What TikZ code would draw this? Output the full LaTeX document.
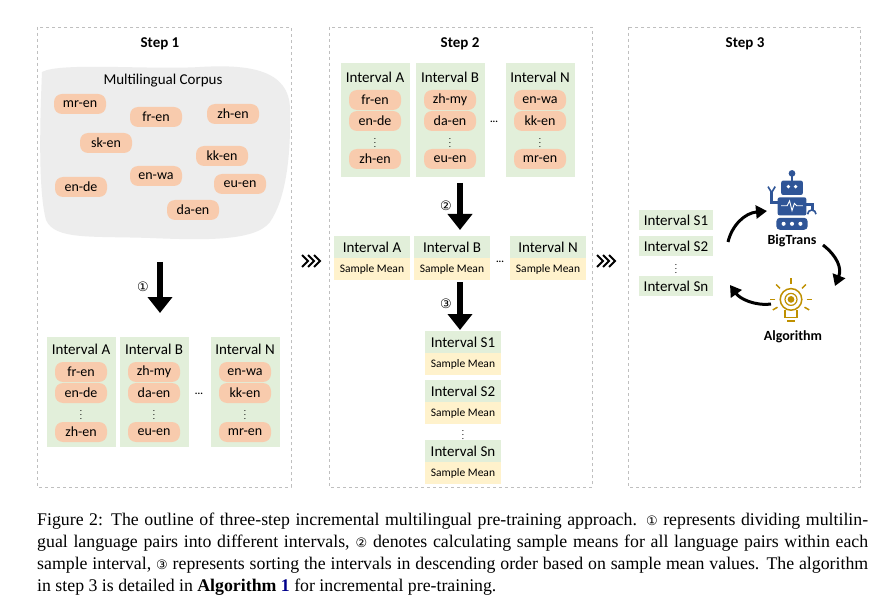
\documentclass[tikz,border=0pt]{standalone}
\usepackage{fontspec}
\setmainfont{Carlito}
\newfontfamily\capfont{Liberation Serif}
\newfontfamily\symfont{DejaVu Sans}
\usetikzlibrary{arrows.meta}
\definecolor{pillc}{HTML}{F8CBAD}
\definecolor{grn}{HTML}{E2EFDA}
\definecolor{ylw}{HTML}{FFF2CC}
\definecolor{blob}{HTML}{EDEDED}
\definecolor{robo}{HTML}{2F5597}
\definecolor{gold}{HTML}{BF9000}
\definecolor{dash}{HTML}{BFBFBF}
\tikzset{
 pill/.style={fill=pillc,rounded corners=8pt,minimum width=52pt,minimum height=20pt,inner sep=0pt,font=\fontsize{14}{14}\selectfont},
 grnbox/.style={fill=grn,inner sep=0pt},
 hdr/.style={font=\fontsize{15}{15}\selectfont},
 smean/.style={font=\fontsize{11.5}{11.5}\selectfont},
 vd/.style={inner sep=0pt,font=\fontsize{9}{9}\selectfont},
 panel/.style={draw=dash,dashed,line width=0.8pt},
 bigarrow/.style={-{Triangle[length=16pt,width=24pt]},line width=6pt},
 curarrow/.style={-{Triangle[length=11pt,width=13pt]},line width=3pt},
 stitle/.style={font=\bfseries\fontsize{15}{15}\selectfont},
 circ/.style={font=\symfont\fontsize{13}{13}\selectfont},
}
\begin{document}
\begin{tikzpicture}[x=1pt,y=-1pt]
\useasboundingbox (0,0) rectangle (891,612);
\fill[white] (0,0) rectangle (891,612);
% panels
\draw[panel] (37,27) rectangle (291,487);
\draw[panel] (329,27) rectangle (592,487);
\draw[panel] (628,27) rectangle (860,487);
\node[stitle] (t1) at (160,44) {Step 1};
\node[stitle] (t2) at (460,44) {Step 2};
\node[stitle] (t3) at (745,44) {Step 3};
% corpus blob
\fill[blob] (42,72) .. controls (60,62) and (150,70) .. (200,67)
 .. controls (250,64) and (290,70) .. (290,110)
 .. controls (291,160) and (285,200) .. (270,222)
 .. controls (255,242) and (200,240) .. (150,238)
 .. controls (90,236) and (55,240) .. (46,220)
 .. controls (38,190) and (40,120) .. (42,72) -- cycle;
\node[font=\fontsize{15}{15}\selectfont] (mc) at (163,81) {Multilingual Corpus};
\node[pill] (c1) at (80,104) {mr-en};
\node[pill] (c2) at (156,117) {fr-en};
\node[pill] (c3) at (233,114) {zh-en};
\node[pill] (c4) at (106,143) {sk-en};
\node[pill] (c5) at (222,156) {kk-en};
\node[pill] (c6) at (156,176) {en-wa};
\node[pill] (c7) at (240,184) {eu-en};
\node[pill] (c8) at (81,187) {en-de};
\node[pill] (c9) at (193,210) {da-en};
% arrow 1
\coordinate (a1s) at (160,262); \coordinate (a1e) at (160,313);
\draw[bigarrow] (a1s) -- (a1e);
\node[circ] (n1) at (143,287) {①};
% step1 intervals
\foreach \nm/\cx/\hd/\pa/\pb/\pc in {sA/81/Interval A/fr-en/en-de/zh-en, sB/154/Interval B/zh-my/da-en/eu-en, sN/245/Interval N/en-wa/kk-en/mr-en}{
 \node[grnbox,minimum width=69pt,minimum height=110pt] (\nm) at (\cx,392) {};
 \node[hdr] (\nm h) at (\cx,349) {\hd};
 \node[pill] (\nm 1) at (\cx,372) {\pa};
 \node[pill] (\nm 2) at (\cx,393) {\pb};
 \node[vd] (\nm d) at (\cx,412) {$\vdots$};
 \node[pill] (\nm 3) at (\cx,432) {\pc};
}
\node (dd1) at (199,394) {\textbf{...}};
% step2 top intervals
\foreach \nm/\cx/\hd/\pa/\pb/\pc in {tA/375/Interval A/fr-en/en-de/zh-en, tB/450/Interval B/zh-my/da-en/eu-en, tN/540/Interval N/en-wa/kk-en/mr-en}{
 \node[grnbox,minimum width=69pt,minimum height=114pt] (\nm) at (\cx,120) {};
 \node[hdr] (\nm h) at (\cx,77) {\hd};
 \node[pill] (\nm 1) at (\cx,100) {\pa};
 \node[pill] (\nm 2) at (\cx,121) {\pb};
 \node[vd] (\nm d) at (\cx,140) {$\vdots$};
 \node[pill] (\nm 3) at (\cx,159) {\pc};
}
\node (dd2) at (494,122) {\textbf{...}};
% arrow 2
\coordinate (a2s) at (460,183); \coordinate (a2e) at (460,230);
\draw[bigarrow] (a2s) -- (a2e);
\node[circ] (n2) at (446,206) {②};
% mean row
\foreach \nm/\cx/\hd in {mA/372/Interval A, mB/452/Interval B, mN/548/Interval N}{
 \node[grnbox,minimum width=76pt,minimum height=22pt] (\nm h) at (\cx,247) {};
 \node[hdr] at (\cx,247) {\hd};
 \node[fill=ylw,minimum width=76pt,minimum height=22pt,inner sep=0pt] (\nm m) at (\cx,269) {};
 \node[smean] at (\cx,269) {Sample Mean};
}
\node (dd3) at (500,262) {\textbf{...}};
% arrow 3
\coordinate (a3s) at (460,282); \coordinate (a3e) at (460,330);
\draw[bigarrow] (a3s) -- (a3e);
\node[circ] (n3) at (446,304) {③};
% sorted
\foreach \nm/\cy/\hd in {s1/342/Interval S1, s2/391/Interval S2, s3/451/Interval Sn}{
 \node[grnbox,minimum width=76pt,minimum height=22pt] (\nm h) at (463,\cy) {};
 \node[hdr] at (463,\cy) {\hd};
 \node[fill=ylw,minimum width=76pt,minimum height=22pt,inner sep=0pt] (\nm m) at (463,\cy+22) {};
 \node[smean] at (463,\cy+22) {Sample Mean};
}
\node[vd] (dd4) at (463,432) {$\vdots$};
% chevrons
\foreach \cx in {311,606}{
 \foreach \dx in {-6,0,6}{
  \draw[line width=2pt] (\cx+\dx-3,255) -- (\cx+\dx+3,261) -- (\cx+\dx-3,267);
 }
}
% step 3 list
\node[grnbox,minimum width=74pt,minimum height=20pt,hdr] (q1) at (676,220) {Interval S1};
\node[grnbox,minimum width=74pt,minimum height=20pt,hdr] (q2) at (676,246) {Interval S2};
\node[vd] (qd) at (676,266) {$\vdots$};
\node[grnbox,minimum width=74pt,minimum height=20pt,hdr] (q3) at (676,286) {Interval Sn};
% robot
\begin{scope}[robo,shift={(792,201)},scale=1.2,shift={(-792,-201)}]
 \fill (792,178) circle (2.8pt);
 \fill (791,179) rectangle (793,184);
 \fill[rounded corners=2pt] (783,184) rectangle (801,196);
 \fill[white] (789,189) circle (1.6pt) (795,189) circle (1.6pt);
 \fill[rounded corners=2pt] (780,198) rectangle (804,213);
 \draw[white,line width=0.9pt] (783,205) -- (788,205) -- (790,201) -- (792,209) -- (794,203) -- (796,205) -- (801,205);
 \draw[line width=2.8pt] (780,202) -- (775,202) -- (775,193);
 \draw[line width=1.6pt] (772,189) -- (775,194) -- (778,189);
 \draw[line width=2.8pt] (804,204) -- (809,204) -- (809,209);
 \draw[line width=1.6pt] (805,212) arc (180:0:3.5pt);
 \fill[rounded corners=3.5pt] (779,215) rectangle (805,225);
 \fill[white] (785,220) circle (1.7pt) (792,220) circle (1.7pt) (799,220) circle (1.7pt);
\end{scope}
\node[font=\bfseries\fontsize{14}{14}\selectfont] (bt) at (792,241) {BigTrans};
% bulb
\begin{scope}[gold,line width=1.5pt,shift={(791,303)},scale=1.2,shift={(-791,-303)}]
 \draw (791,300) circle (9pt);
 \draw (786,309) -- (786,315) -- (796,315) -- (796,309);
 \draw (788,318) -- (794,318);
 \fill (791,300) circle (2.8pt);
 \draw[line width=1.2pt] (791,300) circle (5pt);
 \foreach \a in {90,135,45,180,0,210,-30}{
  \draw (791,300) ++(\a:13pt) -- ++(\a:4.5pt);
 }
\end{scope}
\node[font=\bfseries\fontsize{14}{14}\selectfont] (alg) at (793,337) {Algorithm};
% cycle arrows
\coordinate (r1s) at (728,242); \coordinate (r1e) at (767,211);
\draw[curarrow] (r1s) .. controls (732,225) and (745,213) .. (r1e);
\coordinate (r2s) at (823,245); \coordinate (r2e) at (835,286);
\draw[curarrow] (r2s) .. controls (837,256) and (842,268) .. (r2e);
\coordinate (r3s) at (771,304); \coordinate (r3e) at (730,285);
\draw[curarrow] (r3s) .. controls (755,306) and (740,299) .. (r3e);
% caption
\begin{scope}[every node/.style={anchor=west,inner sep=0pt,font=\capfont\fontsize{17.8}{17.8}\selectfont}]
\node (l1) at (37,521) {\makebox[831pt][s]{Figure 2: The outline of three-step incremental multilingual pre-training approach. {\symfont\fontsize{13}{13}\selectfont ①} represents dividing multilin-}};
\node (l2) at (37,543) {\makebox[831pt][s]{gual language pairs into different intervals, {\symfont\fontsize{13}{13}\selectfont ②} denotes calculating sample means for all language pairs within each}};
\node (l3) at (37,565) {\makebox[831pt][s]{sample interval, {\symfont\fontsize{13}{13}\selectfont ③} represents sorting the intervals in descending order based on sample mean values. The algorithm}};
\node (l4) at (37,587) {in step 3 is detailed in \textbf{Algorithm {\color[HTML]{00008B}1}} for incremental pre-training.};
\end{scope}
\end{tikzpicture}
\end{document}
